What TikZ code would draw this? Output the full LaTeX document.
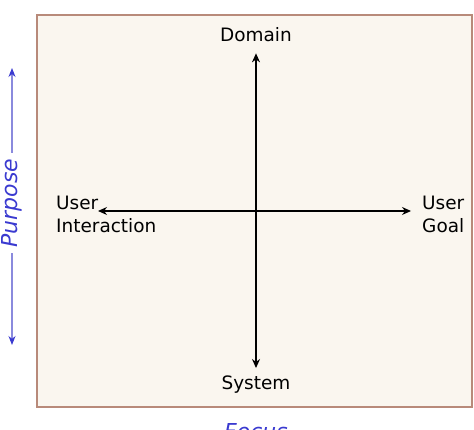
\documentclass[tikz,border=0pt]{standalone}
\usepackage{fontspec}
\setmainfont{DejaVu Sans}
\usepackage{tikz}
\usetikzlibrary{arrows.meta}

\definecolor{boxfill}{HTML}{FAF6EF}
\definecolor{boxedge}{HTML}{B88A7A}
\definecolor{axisblue}{HTML}{3A3AD0}
\definecolor{axisline}{HTML}{8A8ADD}

\begin{document}
\begin{tikzpicture}[>={Stealth[length=1.8mm, width=1.6mm]}, font=\fontsize{10.5}{13}\selectfont]
\useasboundingbox (0, 0) rectangle (9.48, 8.58);

\node[minimum width=8.7cm, minimum height=7.84cm, draw=boxedge, fill=boxfill, line width=1.1pt] (quadrant box) at (5.09, 4.36) {};

\coordinate (centre) at (5.12, 4.36);
\node (domain) at (5.12, 7.88) {Domain};
\node (system) at (5.12, 0.88) {System};
\node[anchor=west, align=left] (goal) at (8.32, 4.30) {User\\Goal};
\node[anchor=west, align=left] (interaction) at (1.0, 4.30) {User\\Interaction};
\coordinate (interaction tip) at (1.96, 4.36);

\draw[->, line width=0.7pt, shorten >=0.1cm] (centre) -- (domain.south) {};
\draw[->, line width=0.7pt, shorten >=0.04cm] (centre) -- (system.north) {};
\draw[->, line width=0.7pt, shorten >=0.1cm] (centre) -- (goal.west |- centre) {};
\draw[->, line width=0.7pt] (centre) -- (interaction tip) {};

\node[rotate=90, color=axisblue, font=\fontsize{12.5}{15}\selectfont\itshape] (purpose) at (0.24, 4.52) {Purpose};
\coordinate (purpose top) at (0.24, 7.22);
\coordinate (purpose bottom) at (0.24, 1.68);
\draw[-{Stealth[length=1.8mm, width=1.4mm, color=axisblue]}, color=axisline, line width=0.6pt] (purpose.east) -- (purpose top) {};
\draw[-{Stealth[length=1.8mm, width=1.4mm, color=axisblue]}, color=axisline, line width=0.6pt] (purpose.west) -- (purpose bottom) {};

\node[anchor=base, color=axisblue, font=\fontsize{12.5}{15}\selectfont\itshape] (focus) at (5.12, -0.2) {Focus};
\end{tikzpicture}
\end{document}
